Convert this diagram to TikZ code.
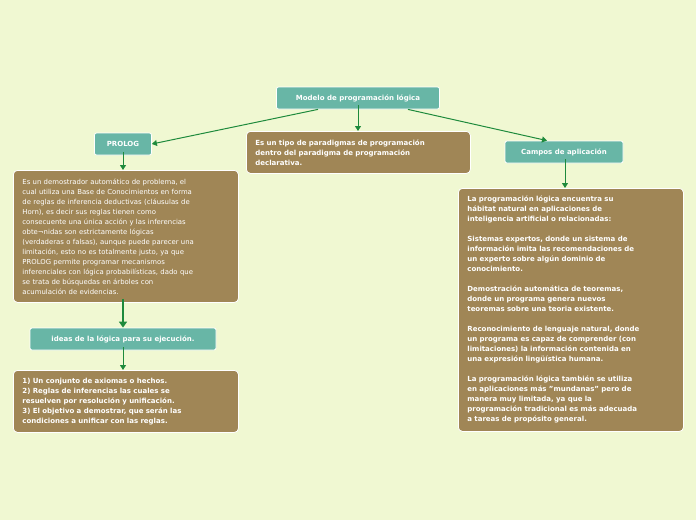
\documentclass[tikz,border=0pt]{standalone}
\usepackage{fontspec}
\setmainfont{DejaVu Sans}
\usetikzlibrary{arrows.meta}
\definecolor{bg}{HTML}{F0F8D2}
\definecolor{teal}{HTML}{68B6A6}
\definecolor{brn}{HTML}{A08656}
\definecolor{arr}{HTML}{1E8A3C}
\begin{document}
\begin{tikzpicture}[x=1pt,y=-1pt,
 tl/.style={fill=teal,draw=white,line width=0.8pt,rounded corners=2pt,text=white,font=\fontsize{7}{9}\selectfont\bfseries,inner sep=0pt,minimum height=22pt},
 bx/.style={fill=brn,draw=white,line width=0.8pt,rounded corners=4pt,text=white,align=left,inner xsep=9pt,inner ysep=5pt,font=\fontsize{6.9}{10}\selectfont,anchor=north west},
 ar/.style={draw=arr,line width=1pt,-{Triangle[length=5pt,width=6pt]}},
 tk/.style={draw=arr,line width=2pt,-{Triangle[length=6pt,width=8pt]}}]
\fill[bg] (0,0) rectangle (696,520);
\node[tl,minimum width=163pt] (top) at (358,98) {Modelo de programación lógica};
\node[tl,minimum width=57pt] (prolog) at (123,144) {PROLOG};
\node[tl,minimum width=118pt] (campos) at (564,152) {Campos de aplicación};
\node[tl,minimum width=186pt] (ideas) at (123,339) {ideas de la lógica para su ejecución.};
\node[bx,text width=206pt,minimum height=42pt,font=\fontsize{7}{10}\selectfont\bfseries,inner ysep=4pt] (tipo) at (246,131) {Es un tipo de paradigmas de programación\\dentro del paradigma de programación\\declarativa.};
\node[bx,text width=207pt,minimum height=132pt] (desc) at (13,170) {Es un demostrador automático de problema, el\\cual utiliza una Base de Conocimientos en forma\\de reglas de inferencia deductivas (cláusulas de\\Horn), es decir sus reglas tienen como\\consecuente una única acción y las inferencias\\obte¬nidas son estrictamente lógicas\\(verdaderas o falsas), aunque puede parecer una\\limitación, esto no es totalmente justo, ya que\\PROLOG permite programar mecanismos\\inferenciales con lógica probabilísticas, dado que\\se trata de búsquedas en árboles con\\acumulación de evidencias.};
\node[bx,text width=207pt,minimum height=62pt,font=\fontsize{7}{10}\selectfont\bfseries] (list) at (13,370) {1) Un conjunto de axiomas o hechos.\\2) Reglas de inferencias las cuales se\\resuelven por resolución y unificación.\\3) El objetivo a demostrar, que serán las\\condiciones a unificar con las reglas.};
\node[bx,text width=207pt,minimum height=243pt,font=\fontsize{7}{10}\selectfont\bfseries] (cdesc) at (458,188) {La programación lógica encuentra su\\hábitat natural en aplicaciones de\\inteligencia artificial o relacionadas:\\[10pt]Sistemas expertos, donde un sistema de\\información imita las recomendaciones de\\un experto sobre algún dominio de\\conocimiento.\\[10pt]Demostración automática de teoremas,\\donde un programa genera nuevos\\teoremas sobre una teoria existente.\\[10pt]Reconocimiento de lenguaje natural, donde\\un programa es capaz de comprender (con\\limitaciones) la información contenida en\\una expresión lingüística humana.\\[10pt]La programación lógica también se utiliza\\en aplicaciones más "mundanas" pero de\\manera muy limitada, ya que la\\programación tradicional es más adecuada\\a tareas de propósito general.};
\draw[ar] (top.south -| 318,0) -- (prolog.east);
\draw[ar] ([yshift=4pt]top.south) -- (tipo.north -| top);
\draw[ar] (top.south -| 408,0) -- (campos.north -| 547,0);
\draw[ar] ([yshift=3pt]prolog.south) -- (desc.north -| prolog);
\draw[tk] ([yshift=4pt]desc.south -| prolog) -- (ideas.north);
\draw[ar] ([yshift=3pt]ideas.south) -- (list.north -| ideas);
\draw[ar] ([xshift=1pt,yshift=4pt]campos.south) -- (cdesc.north -| 565,0);
\end{tikzpicture}
\end{document}
